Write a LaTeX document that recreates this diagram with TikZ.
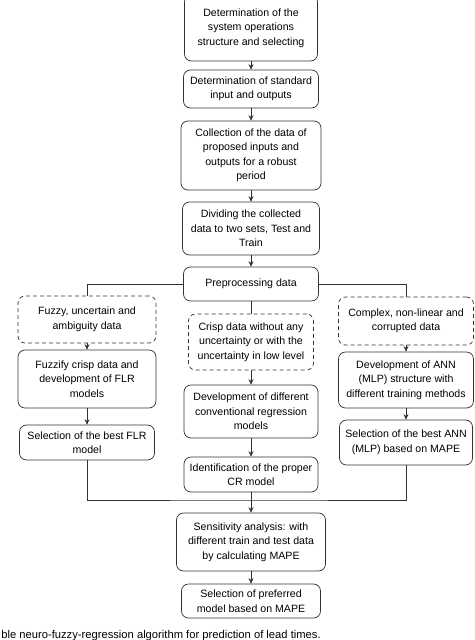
\documentclass[tikz,border=0pt]{standalone}
\usepackage{fontspec}
\setmainfont{Liberation Sans}
\usetikzlibrary{arrows.meta}
\definecolor{linegray}{RGB}{50,50,50}
\tikzset{
	box/.style={draw=linegray,rounded corners=7pt,align=center,inner sep=2pt,font=\fontsize{10.6}{14.5}\selectfont},
	dbox/.style={box,dash pattern=on 4pt off 3pt}
}
\begin{document}
\begin{tikzpicture}[line width=0.7pt,>={Stealth[length=5.5pt,width=5pt]},x=1pt,y=-1pt,draw=linegray]
	\useasboundingbox (0,0) rectangle (474,640);
	% main column
	\node[box,minimum width=133pt,minimum height=66pt] (det) at (251,28) {Determination of the\\system operations\\structure and selecting};
	\node[box,minimum width=135pt,minimum height=38pt] (std) at (251,89) {Determination of standard\\input and outputs};
	\node[box,minimum width=140pt,minimum height=69pt] (col) at (251,155.5) {Collection of the data of\\proposed inputs and\\outputs for a robust\\period};
	\node[box,minimum width=137pt,minimum height=53pt] (div) at (251,228.5) {Dividing the collected\\data to two sets, Test and\\Train};
	\node[box,minimum width=135pt,minimum height=34pt] (pre) at (251,284) {Preprocessing data};
	% left branch
	\node[dbox,minimum width=138pt,minimum height=47pt] (fz) at (87,319.5) {Fuzzy, uncertain and\\ambiguity data};
	\node[box,minimum width=138pt,minimum height=58pt] (flr) at (87,379) {Fuzzify crisp data and\\development of FLR\\models};
	\node[box,minimum width=135pt,minimum height=35pt] (sfl) at (87,442.5) {Selection of the best FLR\\model};
	% middle branch
	\node[dbox,minimum width=125pt,minimum height=56pt] (cr) at (251,342) {Crisp data without any\\uncertainty or with the\\uncertainty in low level};
	\node[box,minimum width=134pt,minimum height=53pt] (cvr) at (251,411.5) {Development of different\\conventional regression\\models};
	\node[box,minimum width=134pt,minimum height=35pt] (idp) at (251,474.5) {Identification of the proper\\CR model};
	% right branch
	\node[dbox,minimum width=135pt,minimum height=48pt] (cx) at (406,321) {Complex, non-linear and\\corrupted data};
	\node[box,minimum width=135pt,minimum height=56pt] (ann) at (406,380) {Development of ANN\\(MLP) structure with\\different training methods};
	\node[box,minimum width=133pt,minimum height=45pt] (san) at (406,442.5) {Selection of the best ANN\\(MLP) based on MAPE};
	% final steps
	\node[box,minimum width=149pt,minimum height=58pt] (sen) at (251,542) {Sensitivity analysis: with\\different train and test data\\by calculating MAPE};
	\node[box,minimum width=139pt,minimum height=34pt] (sel) at (251,601) {Selection of preferred\\model based on MAPE};
	\coordinate (mrg) at (251,500);
	\node[anchor=base west,inner sep=0pt,font=\fontsize{11.2}{13}\selectfont] (cap) at (1,638) {ble neuro-fuzzy-regression algorithm for prediction of lead times.};
	\foreach \a/\b in {det/std,std/col,col/div,div/pre,fz/flr,flr/sfl,cr/cvr,cvr/idp,cx/ann,ann/san,mrg/sen,sen/sel}{
		\draw[->] (\a) -- (\b);
	}
	\draw (pre) -| (fz);
	\draw (pre) -| (cx);
	\draw (pre) -- (cr);
	\draw (sfl) |- (mrg) -| (san);
	\draw (idp) -- (mrg);
\end{tikzpicture}
\end{document}
